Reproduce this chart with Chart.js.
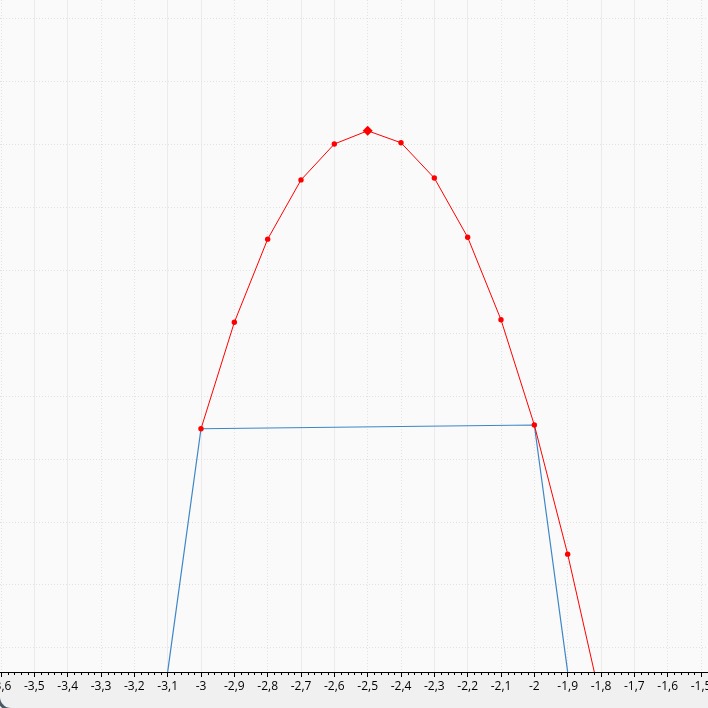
<!DOCTYPE html>
<html>
<head>
<meta charset="utf-8">
<script src="https://cdn.jsdelivr.net/npm/chart.js@4.4.0/dist/chart.umd.min.js"></script>
<style>
  html, body { margin: 0; padding: 0; background: #f0f0f0; overflow: hidden; }
  #wrap { position: relative; width: 708px; height: 708px; }
  #corner {
    position: absolute; left: -3px; bottom: -3px; width: 40px; height: 30px;
    border-left: 3px solid #4b5964; border-bottom: 3px solid #4b5964;
    border-bottom-left-radius: 14px;
  }
</style>
</head>
<body>
<div id="wrap">
  <canvas id="chart" width="708" height="708"></canvas>
  <div id="corner"></div>
</div>
<script>
// curve (red) sampled points
const redX = [-3.0, -2.9, -2.8, -2.7, -2.6, -2.5, -2.4, -2.3, -2.2, -2.1, -2.0, -1.9, -1.8];
const redY = [3.48, 5.17, 6.49, 7.43, 8.0, 8.21, 8.02, 7.46, 6.52, 5.21, 3.54, 1.49, -0.85];
// trapezoid (blue)
const blueX = [-3.1, -3.0, -2.0, -1.9];
const blueY = [-0.38, 3.48, 3.54, -0.38];
// x axis tick labels (every 0.1)
const xTicks = [-3.6, -3.5, -3.4, -3.3, -3.2, -3.1, -3.0, -2.9, -2.8, -2.7, -2.6,
                -2.5, -2.4, -2.3, -2.2, -2.1, -2.0, -1.9, -1.8, -1.7, -1.6, -1.5];
const yGrid = [0, 1, 2, 3, 4, 5, 6, 7, 8, 9, 10];
const peakX = -2.5;

const solidGrid = [-3.5, -3.4, -3.1, -3.0, -2.7, -2.6, -2.3, -2.2, -1.8, -1.7];

const toPts = (xs, ys) => xs.map((x, i) => ({ x, y: ys[i] }));
const fmt = v => (Math.round(v * 10) / 10).toString().replace('.', ',');

const plotBg = {
  id: 'plotBg',
  beforeDraw(chart) {
    const { ctx, chartArea: a } = chart;
    ctx.save();
    ctx.fillStyle = '#fafafa';
    ctx.fillRect(a.left, a.top, a.right - a.left, a.bottom - a.top);
    ctx.restore();
  }
};

const minorTicks = {
  id: 'minorTicks',
  afterDraw(chart) {
    const { ctx, chartArea: a, scales } = chart;
    const sx = scales.x;
    ctx.save();
    ctx.strokeStyle = '#000';
    ctx.lineWidth = 1;
    ctx.beginPath();
    for (let k = -181; k <= -73; k++) {
      if (k % 5 === 0) continue;
      const px = Math.round(sx.getPixelForValue(k / 50)) + 0.5;
      ctx.moveTo(px, a.bottom);
      ctx.lineTo(px, a.bottom + 3);
    }
    ctx.stroke();
    ctx.restore();
  }
};

new Chart(document.getElementById('chart'), {
  type: 'line',
  data: {
    datasets: [
      {
        data: toPts(redX, redY),
        borderColor: '#ff0000',
        backgroundColor: '#ff0000',
        borderWidth: 1,
        pointRadius: ctx => (ctx.raw && ctx.raw.x === peakX ? 5 : 2.7),
        pointStyle: ctx => (ctx.raw && ctx.raw.x === peakX ? 'rectRot' : 'circle'),
        pointBorderWidth: 0,
        tension: 0
      },
      {
        data: toPts(blueX, blueY),
        borderColor: '#3d86c6',
        borderWidth: 1.2,
        pointRadius: 0,
        tension: 0
      }
    ]
  },
  options: {
    responsive: false,
    animation: false,
    layout: { padding: 0, autoPadding: false },
    plugins: { legend: { display: false }, tooltip: { enabled: false } },
    scales: {
      x: {
        type: 'linear',
        min: -3.603,
        max: -1.479,
        afterBuildTicks: s => { s.ticks = xTicks.map(v => ({ value: v })); },
        afterFit: s => { s.height = 36; s.paddingLeft = 0; s.paddingRight = 0; },
        ticks: {
          autoSkip: false,
          maxRotation: 0,
          padding: 2,
          color: '#000',
          font: { family: 'Open Sans', size: 12 },
          callback: v => fmt(v)
        },
        grid: {
          color: ctx => (ctx.tick && solidGrid.includes(ctx.tick.value) ? '#ebebeb' : '#e2e2e2'),
          tickColor: '#000',
          tickLength: 5,
          lineWidth: 1
        },
        border: {
          display: true,
          color: '#000',
          width: 1,
          dash: ctx => (ctx.tick && solidGrid.includes(ctx.tick.value) ? [] : [1, 2])
        }
      },
      y: {
        type: 'linear',
        min: -0.381,
        max: 10.286,
        afterBuildTicks: s => { s.ticks = yGrid.map(v => ({ value: v })); },
        afterFit: s => { s.width = 0; },
        ticks: { display: false },
        grid: { color: '#e2e2e2', drawTicks: false },
        border: { display: false, dash: [1, 2] }
      }
    }
  },
  plugins: [plotBg, minorTicks]
});
</script>
</body>
</html>
